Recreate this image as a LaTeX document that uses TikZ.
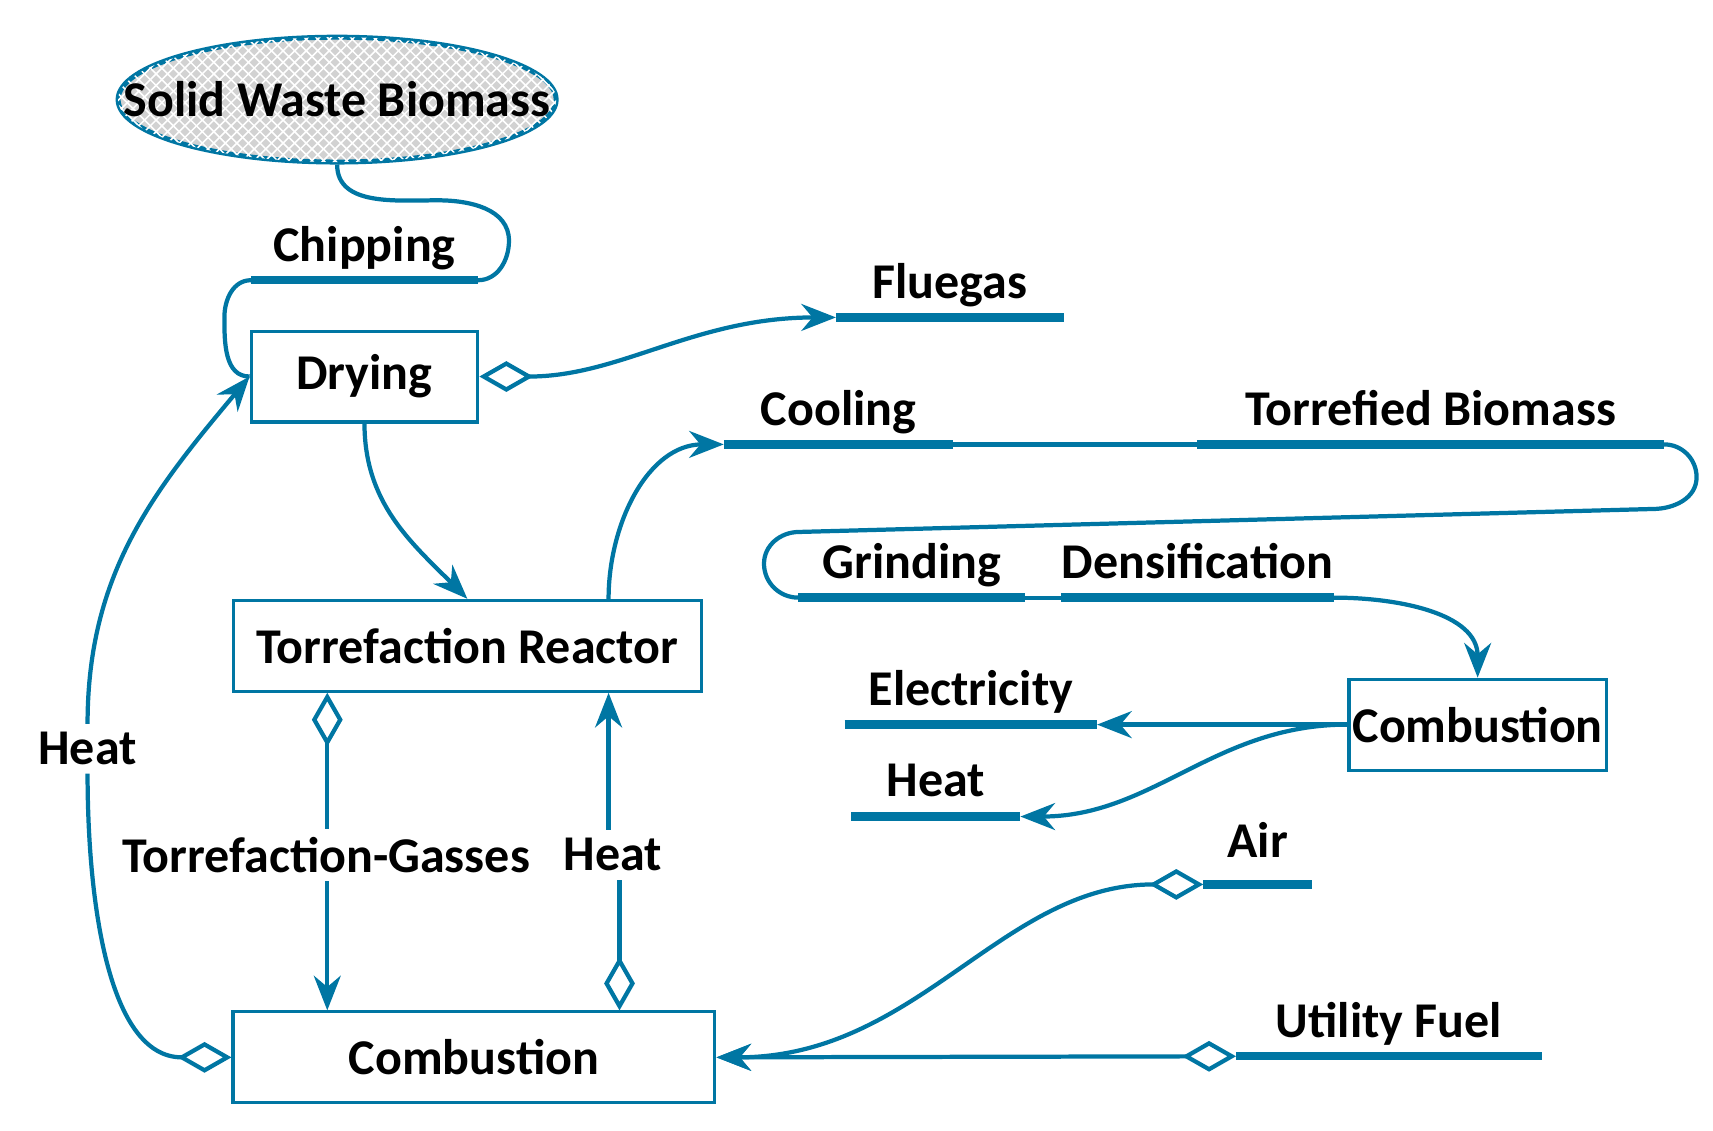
\documentclass[tikz,border=0pt]{standalone}
\usepackage{fontspec}
\setmainfont{Carlito}
\usetikzlibrary{arrows.meta,patterns,calc,shapes.geometric}
\definecolor{flow}{RGB}{0,118,163}
\tikzset{
  box/.style={draw=flow,thick,minimum height=0.83cm,font=\fontsize{13}{16}\selectfont\bfseries,inner sep=0pt},
  stream/.style={anchor=south,inner sep=0pt,minimum height=0.5cm,text depth=.9ex,font=\fontsize{13}{16}\selectfont\bfseries},
  bar/.style={draw=flow,line width=2.2pt},
  link/.style={draw=flow,line width=1.1pt},
  arr/.style={link,-{Stealth[length=9pt,width=7pt]}},
  from/.style={link,{Diamond[open,length=14pt,width=8pt]}-},
  fromto/.style={link,{Diamond[open,length=14pt,width=8pt]}-{Stealth[length=9pt,width=7pt]}},
  lbl/.style={font=\fontsize{13}{16}\selectfont\bfseries,fill=white,inner sep=2pt}
}
\begin{document}
\begin{tikzpicture}[x=0.01cm,y=-0.01cm]
  \useasboundingbox (0,0) rectangle (1565,1033);
  % source
  \node[ellipse,draw=flow,line width=1.3pt,minimum width=4cm,minimum height=1.14cm,fill=gray!35,
    postaction={pattern=crosshatch,pattern color=white}]
    (swb) at (308,91) {};
  \node[font=\fontsize{13}{16}\selectfont\bfseries] at (swb) {Solid Waste Biomass};
  % streams
  \node[stream,minimum width=2.06cm] (chip) at (333,256) {Chipping};
  \node[stream,minimum width=2.07cm] (flue) at (868,290) {Fluegas};
  \node[stream,minimum width=2.08cm] (cool) at (766,406) {Cooling};
  \node[stream,minimum width=4.25cm] (tbio) at (1307,406) {Torrefied Biomass};
  \node[stream,minimum width=2.06cm] (grind) at (833,546) {Grinding};
  \node[stream,minimum width=2.26cm] (dens) at (1094,546) {Densification};
  \node[stream,minimum width=2.29cm] (elec) at (887,662) {Electricity};
  \node[stream,minimum width=1.53cm] (heat2) at (855,746) {Heat};
  \node[stream,minimum width=0.98cm,text depth=1.4ex] (air) at (1149,808) {Air};
  \node[stream,minimum width=2.78cm] (ufuel) at (1269,965) {Utility Fuel};
  \foreach \s in {chip,flue,cool,tbio,grind,dens,elec,heat2,air,ufuel}
    \draw[bar] (\s.south west) -- (\s.south east);
  % units
  \node[box,minimum width=2.07cm] (dry) at (333,344) {Drying};
  \node[box,minimum width=4.27cm] (reac) at (427,590) {Torrefaction Reactor};
  \node[box,minimum width=2.35cm] (comb2) at (1350,662) {Combustion};
  \node[box,minimum width=4.4cm] (comb1) at (433,966) {Combustion};
  \node[lbl] (hl) at (80,684) {Heat};
  \node[lbl] (tg) at (298,781) {Torrefaction-Gasses};
  \node[lbl] (hm) at (560,781) {Heat};
  \coordinate (a1) at (465,220);
  \coordinate (a2) at (205,290);
  \coordinate (a3) at (1550,436);
  \coordinate (a4) at (698,515);
  % connectors
  \draw[link] (swb.south) to[out=-90,in=180] (400,183) to[out=0,in=90] (a1)
    to[out=-90,in=0] (chip.south east);
  \draw[link] (chip.south west) to[out=180,in=90] (a2) to[out=-90,in=180] (dry.west);
  \draw[fromto] (dry.east) to[out=0,in=180] (flue.south west);
  \draw[arr] (dry.south) to[out=-90,in=135] (reac.north);
  \draw[arr] ($(reac.north)+(129,0)$) to[out=90,in=180] (cool.south west);
  \draw[link] (cool.south east) -- (tbio.south west);
  \draw[link] (tbio.south east) to[out=0,in=90] (a3) to[out=-90,in=0] (1510,465)
    -- (730,486) to[out=180,in=90] (a4) to[out=-90,in=180] (grind.south west);
  \draw[link] (grind.south east) -- (dens.south west);
  \draw[arr] (dens.south east) to[out=0,in=90] (comb2.north);
  \draw[arr] (comb2.west) -- (elec.south east);
  \draw[arr] (comb2.west) to[out=180,in=0] (heat2.south east);
  \draw[from] ($(reac.south)+(-128,0)$) -- (tg.north -| 299,0);
  \draw[arr] (tg.south -| 299,0) -- ($(comb1.north)+(-134,0)$);
  \draw[from] ($(comb1.north)+(133,0)$) -- (hm.south -| 566,0);
  \draw[arr] (hm.north -| 556,0) -- ($(reac.south)+(129,0)$);
  \draw[from] (comb1.west) to[out=180,in=-90] (hl.south);
  \draw[arr] (hl.north) to[out=90,in=230] (dry.west);
  \draw[fromto] (air.south west) to[out=180,in=0] (comb1.east);
  \draw[fromto] (ufuel.south west) -- (comb1.east);
\end{tikzpicture}
\end{document}
